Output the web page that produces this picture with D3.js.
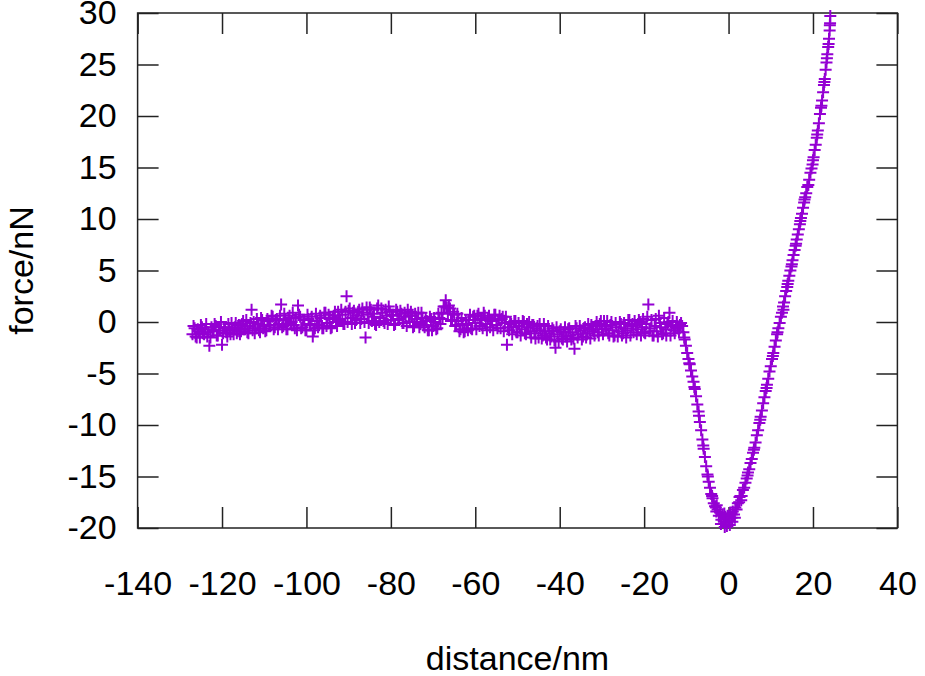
<!DOCTYPE html>
<html lang="en">
<head>
    <meta charset="UTF-8">
    <title>force vs distance</title>
    <style>
        body { margin: 0; background: #fff; }
        text { font-family: "Liberation Sans", Arial, Helvetica, sans-serif; fill: #000; }
    </style>
    <script src="https://d3js.org/d3.v7.min.js"></script>
</head>
<body>
<script>
// tick values for both axes
const xTicks = [-140, -120, -100, -80, -60, -40, -20, 0, 20, 40];
const yTicks = [-20, -15, -10, -5, 0, 5, 10, 15, 20, 25, 30];

// distance (nm)
const distance = [
    -127, -126.5, -126, -125.5, -125, -124.5, -124, -123.5, -123, -122.5,
    -122, -121.5, -121, -120.5, -120, -119.5, -119, -118.5, -118, -117.5,
    -117, -116.5, -116, -115.5, -115, -114.5, -114, -113.5, -113, -112.5,
    -112, -111.5, -111, -110.5, -110, -109.5, -109, -108.5, -108, -107.5,
    -107, -106.5, -106, -105.5, -105, -104.5, -104, -103.5, -103, -102.5,
    -102, -101.5, -101, -100.5, -100, -99.5, -99, -98.5, -98, -97.5,
    -97, -96.5, -96, -95.5, -95, -94.5, -94, -93.5, -93, -92.5,
    -92, -91.5, -91, -90.5, -90, -89.5, -89, -88.5, -88, -87.5,
    -87, -86.5, -86, -85.5, -85, -84.5, -84, -83.5, -83, -82.5,
    -82, -81.5, -81, -80.5, -80, -79.5, -79, -78.5, -78, -77.5,
    -77, -76.5, -76, -75.5, -75, -74.5, -74, -73.5, -73, -72.5,
    -72, -71.5, -71, -70.5, -70, -69.5, -69, -68.5, -68, -67.5,
    -67, -66.5, -66, -65.5, -65, -64.5, -64, -63.5, -63, -62.5,
    -62, -61.5, -61, -60.5, -60, -59.5, -59, -58.5, -58, -57.5,
    -57, -56.5, -56, -55.5, -55, -54.5, -54, -53.5, -53, -52.5,
    -52, -51.5, -51, -50.5, -50, -49.5, -49, -48.5, -48, -47.5,
    -47, -46.5, -46, -45.5, -45, -44.5, -44, -43.5, -43, -42.5,
    -42, -41.5, -41, -40.5, -40, -39.5, -39, -38.5, -38, -37.5,
    -37, -36.5, -36, -35.5, -35, -34.5, -34, -33.5, -33, -32.5,
    -32, -31.5, -31, -30.5, -30, -29.5, -29, -28.5, -28, -27.5,
    -27, -26.5, -26, -25.5, -25, -24.5, -24, -23.5, -23, -22.5,
    -22, -21.5, -21, -20.5, -20, -19.5, -19, -18.5, -18, -17.5,
    -17, -16.5, -16, -15.5, -15, -14.5, -14, -13.5, -13, -12.5,
    -12, -11.5,
    // snap-in and contact
    -11.0, -10.7, -10.4, -10.1, -9.8, -9.5, -9.2, -8.9, -8.6, -8.3,
    -8.0, -7.7, -7.4, -7.1, -6.8, -6.5, -6.2, -5.9, -5.6, -5.3,
    -5.0, -4.7, -4.4, -4.1, -3.8, -3.5, -3.2, -2.9, -2.6, -2.3,
    -2.0, -1.7, -1.4, -1.1, -0.8, -0.5, -0.2, 0.1, 0.4, 0.7,
    1.0, 1.3, 1.6, 1.9, 2.2, 2.5, 2.8, 3.1, 3.4, 3.7,
    4.0, 4.3, 4.6, 4.9, 5.2, 5.5, 5.8, 6.1, 6.4, 6.7,
    7.0, 7.3, 7.6, 7.9, 8.2, 8.5, 8.8, 9.1, 9.4, 9.7,
    10.0, 10.3, 10.6, 10.9, 11.2, 11.5, 11.8, 12.1, 12.4,
    // repulsive part
    12.65, 12.9, 13.15, 13.4, 13.65, 13.9, 14.15, 14.4, 14.65, 14.9,
    15.15, 15.4, 15.65, 15.9, 16.15, 16.4, 16.65, 16.9, 17.15, 17.4,
    17.65, 17.9, 18.15, 18.4, 18.65, 18.9, 19.4, 19.65, 19.9, 20.15,
    20.4, 20.65, 20.9, 21.15, 21.4, 21.65, 21.9, 22.15, 22.4, 22.6,
    22.8, 23.0, 23.2, 23.4, 23.6, 23.8, 23.95, 24.05, 24.1
];

// force (nN), same order as distance
const force = [
    -1.2, -0.6, -1.5, -0.9, -0.3, -1.1, -0.7, -1.4, -2.3, -0.5,
    -0.9, -0.4, -1.3, -0.8, -2.2, -0.6, -1.0, -0.2, -1.2, -0.7,
    -0.5, -1.1, -0.3, -0.9, 0.1, -0.6, -1.0, -0.4, 1.2, 0.0,
    -0.6, -0.2, -1.0, 0.2, -0.4, -0.8, 0.1, -0.3, 0.5, -0.5,
    0.3, -0.2, 1.7, -0.4, 0.2, -0.7, 0.6, 0.0, -0.3, 0.4,
    1.6, 0.5, -0.5, 0.2, -0.8, 0.3, -0.2, -1.4, -0.6, 0.1,
    -0.3, 0.4, -0.6, 0.9, -0.1, 0.3, -0.5, 0.6, 0.0, 1.0,
    0.2, 0.7, -0.2, 2.5, 1.1, 0.4, 0.9, -0.1, 0.6, 1.2,
    0.3, 0.9, -1.5, 0.7, 1.4, 0.1, 0.8, -0.3, 1.6, 0.4,
    0.9, -0.1, 0.6, 1.5, 0.2, 0.7, -0.2, 1.0, 0.3, 0.8,
    -0.1, 0.5, 1.2, 0.0, 0.6, -0.4, 0.3, 0.9, -0.2, 0.4,
    -0.5, 0.1, -0.8, 0.3, -0.4, 0.0, -0.6, 0.4, 0.9, 1.5,
    2.1, 0.8, 1.3, 0.2, 0.7, -0.3, 0.1, -0.7, -0.2, -0.9,
    -0.3, 0.2, -0.6, 0.5, -0.1, 0.6, -0.4, 0.3, 0.9, -0.2,
    0.4, -0.5, 0.1, 0.7, -0.3, 0.2, -0.6, 0.5, -0.1, -2.2,
    -0.8, -0.2, -0.5, 0.1, -1.0, -0.4, -0.7, 0.0, -1.2, -0.5,
    -0.9, -0.3, -1.1, -0.6, -1.5, -0.8, -1.3, -0.9, -1.7, -1.1,
    -1.4, -0.8, -2.5, -1.2, -0.9, -1.6, -1.0, -1.4, -0.7, -1.3,
    -1.0, -2.6, -0.6, -1.2, -0.8, -1.4, -0.5, -1.1, -0.7, -0.3,
    -0.9, -0.4, -1.0, -0.2, -0.7, 0.1, -0.6, -1.1, -0.3, -0.8,
    -1.3, -0.5, -0.9, -0.2, -1.1, -0.6, -0.8, 0.2, -0.4, -1.0,
    -0.3, -0.7, 0.0, -0.5, -1.0, -0.2, 1.7, -0.6, -1.3, -0.4,
    -0.9, 0.6, -0.5, -1.1, -0.7, -0.2, 0.9, -0.4, -0.8, -0.5,
    -0.6, -0.3,
    -0.4, -1.0, -1.7, -2.3, -3.0, -3.6, -4.1, -4.7, -5.3, -5.8,
    -6.5, -7.2, -8.0, -8.7, -9.7, -10.5, -11.4, -12.3, -13.1, -14.0,
    -14.8, -15.5, -16.1, -16.7, -17.1, -17.6, -17.9, -18.4, -18.2, -18.8,
    -18.5, -19.2, -18.7, -19.4, -18.9, -19.5, -18.8, -19.3, -18.6, -19.0,
    -18.4, -18.7, -18.0, -18.2, -17.6, -17.5, -16.9, -16.9, -16.3, -16.1,
    -15.6, -15.2, -14.6, -14.3, -13.7, -13.3, -12.7, -12.2, -11.7, -11.0,
    -10.5, -9.8, -9.2, -8.6, -7.9, -7.3, -6.7, -6.1, -5.5, -4.8,
    -4.3, -3.6, -3.0, -2.4, -1.8, -1.2, -0.6, -0.1, 0.5,
    0.9, 1.5, 1.9, 2.5, 3.0, 3.4, 4.0, 4.5, 5.0, 5.4,
    6.0, 6.5, 7.0, 7.4, 8.0, 8.5, 9.0, 9.5, 10.1, 10.5,
    11.1, 11.6, 12.1, 12.5, 13.1, 13.3, 14.5, 14.9, 15.3, 16.0,
    16.7, 17.2, 17.9, 18.6, 19.3, 20.2, 20.8, 21.5, 22.3, 23.0,
    23.6, 24.5, 25.2, 26.0, 26.7, 27.5, 28.3, 29.0, 29.7
];

// in-between samples (the band is denser than one row of points)
const distanceB = [
    -126.75, -126.25, -125.75, -125.25, -124.75, -124.25, -123.75, -123.25, -122.75, -122.25,
    -121.75, -121.25, -120.75, -120.25, -119.75, -119.25, -118.75, -118.25, -117.75, -117.25,
    -116.75, -116.25, -115.75, -115.25, -114.75, -114.25, -113.75, -113.25, -112.75, -112.25,
    -111.75, -111.25, -110.75, -110.25, -109.75, -109.25, -108.75, -108.25, -107.75, -107.25,
    -106.75, -106.25, -105.75, -105.25, -104.75, -104.25, -103.75, -103.25, -102.75, -102.25,
    -101.75, -101.25, -100.75, -100.25, -99.75, -99.25, -98.75, -98.25, -97.75, -97.25,
    -96.75, -96.25, -95.75, -95.25, -94.75, -94.25, -93.75, -93.25, -92.75, -92.25,
    -91.75, -91.25, -90.75, -90.25, -89.75, -89.25, -88.75, -88.25, -87.75, -87.25,
    -86.75, -86.25, -85.75, -85.25, -84.75, -84.25, -83.75, -83.25, -82.75, -82.25,
    -81.75, -81.25, -80.75, -80.25, -79.75, -79.25, -78.75, -78.25, -77.75, -77.25,
    -76.75, -76.25, -75.75, -75.25, -74.75, -74.25, -73.75, -73.25, -72.75, -72.25,
    -71.75, -71.25, -70.75, -70.25, -69.75, -69.25, -68.75, -68.25, -67.75, -67.25,
    -66.75, -66.25, -65.75, -65.25, -64.75, -64.25, -63.75, -63.25, -62.75, -62.25,
    -61.75, -61.25, -60.75, -60.25, -59.75, -59.25, -58.75, -58.25, -57.75, -57.25,
    -56.75, -56.25, -55.75, -55.25, -54.75, -54.25, -53.75, -53.25, -52.75, -52.25,
    -51.75, -51.25, -50.75, -50.25, -49.75, -49.25, -48.75, -48.25, -47.75, -47.25,
    -46.75, -46.25, -45.75, -45.25, -44.75, -44.25, -43.75, -43.25, -42.75, -42.25,
    -41.75, -41.25, -40.75, -40.25, -39.75, -39.25, -38.75, -38.25, -37.75, -37.25,
    -36.75, -36.25, -35.75, -35.25, -34.75, -34.25, -33.75, -33.25, -32.75, -32.25,
    -31.75, -31.25, -30.75, -30.25, -29.75, -29.25, -28.75, -28.25, -27.75, -27.25,
    -26.75, -26.25, -25.75, -25.25, -24.75, -24.25, -23.75, -23.25, -22.75, -22.25,
    -21.75, -21.25, -20.75, -20.25, -19.75, -19.25, -18.75, -18.25, -17.75, -17.25,
    -16.75, -16.25, -15.75, -15.25, -14.75, -14.25, -13.75, -13.25, -12.75, -12.25,
    -11.75, -11.25,
    -10.5, -9.3, -8.1, -7.0, -6.0, -4.9, -3.9, -3.0, -2.8, -1.8,
    -1.0, -0.9, -0.4, 0.3, 0.9, 1.5, 2.6, 3.0, 4.5, 6.0,
    7.5, 9.0, 10.5, 11.6,
    13.0, 14.0, 15.0, 16.0, 17.0, 18.0, 19.1, 20.0, 21.0, 22.0,
    22.7, 23.3, 23.7, 24.0
];

const forceB = [
    -0.4, -1.4, -0.7, -1.5, -0.5, -1.2, -0.2, -1.0, -1.5, -0.8,
    -0.2, -1.3, -0.5, 0.0, -1.1, -0.5, -1.4, -0.8, -0.1, -1.2,
    -0.1, -0.9, -1.2, -0.2, -0.7, 0.2, -1.1, -0.1, -0.8, -1.1,
    0.3, -0.8, 0.4, -0.6, -0.9, 0.3, -0.3, 0.6, -0.7, 0.2,
    -0.7, 0.6, -0.5, 0.8, -0.7, 0.4, -0.2, 0.9, -0.6, -0.8,
    0.7, -0.6, 0.2, -0.8, 0.7, -0.3, 0.5, -0.8, 0.8, -0.5,
    0.6, -0.6, 0.9, -0.4, 0.7, -0.6, 0.4, 1.0, -0.4, 0.3,
    1.2, -0.2, 1.0, 0.0, 1.3, -0.2, 1.1, 0.2, 1.0, -0.1,
    1.3, 0.0, 1.4, -0.1, 1.2, 0.5, -0.2, 1.3, 0.0, 1.3,
    0.1, 1.2, -0.2, 1.0, 0.6, -0.3, 1.2, 0.2, 1.1, -0.1,
    0.9, -0.4, 0.6, 1.0, -0.5, 0.8, 0.0, -0.5, 0.9, -0.3,
    0.4, -0.8, 0.5, -0.8, 0.4, -0.7, 0.8, -0.2, 0.3, 1.5,
    1.4, 1.6, 0.1, 1.0, -0.4, 0.8, -0.9, 0.4, -1.0, 0.2,
    -0.8, 0.7, -0.7, 0.6, -0.7, 0.8, 0.2, -0.6, 0.6, -0.8,
    0.6, 0.2, -0.8, 0.7, -0.6, 0.6, 0.3, -0.9, 0.5, -0.5,
    0.0, -1.2, 0.1, -1.0, -0.1, -1.3, 0.1, -1.1, -0.2, 0.0,
    -1.5, -0.3, -1.6, -0.4, -0.2, -1.6, -0.2, -1.5, -0.4, -1.7,
    -0.6, -1.8, -0.5, -1.9, -0.7, -1.7, -0.5, -1.9, -0.6, -1.7,
    -1.6, -0.4, -1.5, -0.4, -1.7, -0.6, -1.5, -0.2, -1.6, -0.7,
    -1.3, 0.0, -1.3, 0.1, -1.2, -0.4, 0.1, -1.3, 0.0, -1.4,
    -0.1, -1.4, 0.0, -1.3, -0.1, -1.5, 0.2, -1.3, -0.2, 0.1,
    -1.2, 0.2, -1.3, 0.3, -1.1, 0.5, -0.9, 0.2, -1.3, 0.3,
    -1.4, -0.1, -1.2, 0.4, -1.3, 0.0, -1.3, 0.1, -1.1, 0.0,
    -1.0, -0.1,
    -1.5, -4.0, -6.3, -9.1, -12.0, -15.0, -16.9, -18.0, -17.8, -19.6,
    -18.6, -19.9, -19.8, -19.7, -19.4, -19.0, -17.0, -17.3, -14.9, -12.4,
    -9.5, -6.4, -3.3, -1.0,
    1.2, 3.7, 5.6, 7.6, 9.8, 11.9, 13.8, 15.7, 18.2, 21.0,
    23.3, 25.6, 27.0, 28.8
];

var width = 925, height = 676;
var canvas = d3.select("body")
    .append("svg")
    .attr("width", width)
    .attr("height", height);

// plot box
const plotLeft = 137.6, plotRight = 897.4, plotTop = 13, plotBottom = 528;
const tickLen = 21;

const x = d3.scaleLinear().domain([-140, 40]).range([plotLeft, plotRight]);
const y = d3.scaleLinear().domain([-20, 30]).range([plotBottom, plotTop]);

const fmt = d => String(d); // plain hyphen minus like the original

//bottom axis with labels
canvas.append("g")
    .attr("transform", "translate(0," + plotBottom + ")")
    .call(d3.axisBottom(x).tickValues(xTicks).tickSize(-tickLen).tickSizeOuter(0)
        .tickPadding(43).tickFormat(fmt));

//left axis with labels
canvas.append("g")
    .attr("transform", "translate(" + plotLeft + ",0)")
    .call(d3.axisLeft(y).tickValues(yTicks).tickSize(-tickLen).tickSizeOuter(0)
        .tickPadding(21).tickFormat(fmt));

//mirrored ticks on top and right, no labels
canvas.append("g")
    .attr("transform", "translate(0," + plotTop + ")")
    .call(d3.axisTop(x).tickValues(xTicks).tickSize(-tickLen).tickSizeOuter(0).tickFormat(""));
canvas.append("g")
    .attr("transform", "translate(" + plotRight + ",0)")
    .call(d3.axisRight(y).tickValues(yTicks).tickSize(-tickLen).tickSizeOuter(0).tickFormat(""));

canvas.selectAll(".domain").remove();
canvas.selectAll(".tick line").attr("stroke", "#222").attr("stroke-width", 1.5);
canvas.selectAll(".tick text")
    .style("font-size", "34px")
    .attr("fill", "#000");

// border
canvas.append("rect")
    .attr("x", plotLeft).attr("y", plotTop)
    .attr("width", plotRight - plotLeft).attr("height", plotBottom - plotTop)
    .attr("fill", "none")
    .attr("stroke", "#222")
    .attr("stroke-width", 1.5);

// data as + markers
const pts = distance.map((d, i) => ({ d: d, f: force[i] }))
    .concat(distanceB.map((d, i) => ({ d: d, f: forceB[i] })));
canvas.append("g")
    .selectAll("path")
    .data(pts)
    .enter()
    .append("path")
    .attr("transform", p => "translate(" + x(p.d) + "," + y(p.f) + ")")
    .attr("d", "M-6,0H6M0,-6V6")
    .attr("fill", "none")
    .attr("stroke", "#9400d3")
    .attr("stroke-width", 2);

// axis titles
canvas.append("text")
    .attr("x", (plotLeft + plotRight) / 2)
    .attr("y", 670)
    .attr("text-anchor", "middle")
    .style("font-size", "34px")
    .text("distance/nm");

canvas.append("text")
    .attr("transform", "translate(33," + ((plotTop + plotBottom) / 2) + ") rotate(-90)")
    .attr("text-anchor", "middle")
    .style("font-size", "34px")
    .text("force/nN");
</script>
</body>
</html>
